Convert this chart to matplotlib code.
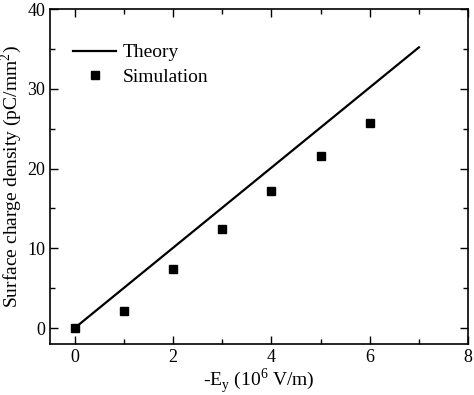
import matplotlib
matplotlib.use("Agg")
import matplotlib.pyplot as plt
from matplotlib.ticker import MultipleLocator

plt.rcParams['font.family'] = ['Liberation Serif', 'DejaVu Serif']
plt.rcParams['mathtext.fontset'] = 'custom'
plt.rcParams['mathtext.rm'] = 'Liberation Serif'

# theory line end points
theory_x = [0, 7]
theory_y = [0, 35.2]

# simulation points
sim_x = [0, 1, 2, 3, 4, 5, 6]
sim_y = [0, 2.15, 7.4, 12.4, 17.2, 21.6, 25.7]

fig = plt.figure(figsize=(4.74, 3.95), dpi=100)
ax = fig.add_axes([0.1055, 0.129, 0.882, 0.848])

ax.plot(theory_x, theory_y, color='black', lw=1.6, label='Theory')
ax.plot(sim_x, sim_y, 's', color='black', ms=6, label='Simulation')

ax.set_xlim(-0.5, 8)
ax.set_ylim(-2, 40)
ax.xaxis.set_major_locator(MultipleLocator(2))
ax.xaxis.set_minor_locator(MultipleLocator(1))
ax.yaxis.set_major_locator(MultipleLocator(10))
ax.yaxis.set_minor_locator(MultipleLocator(5))
ax.tick_params(which='both', direction='in', top=True, right=True, labelsize=13)
ax.tick_params(which='major', length=6, width=1)
ax.tick_params(which='minor', length=3.5, width=1)
for s in ax.spines.values():
    s.set_linewidth(1.2)

ax.set_xlabel(r'-E$_\mathrm{y}$ (10$^6$ V/m)', fontsize=14, labelpad=1)
ax.set_ylabel(r'Surface charge density (pC/mm$^2$)', fontsize=14, labelpad=2)

ax.legend(loc='upper left', frameon=False, fontsize=14, handlelength=2.2,
          handletextpad=0.35, bbox_to_anchor=(0.0, 0.966),
          borderaxespad=0.8, labelspacing=0.35)

fig.savefig('out.png', dpi=100)
